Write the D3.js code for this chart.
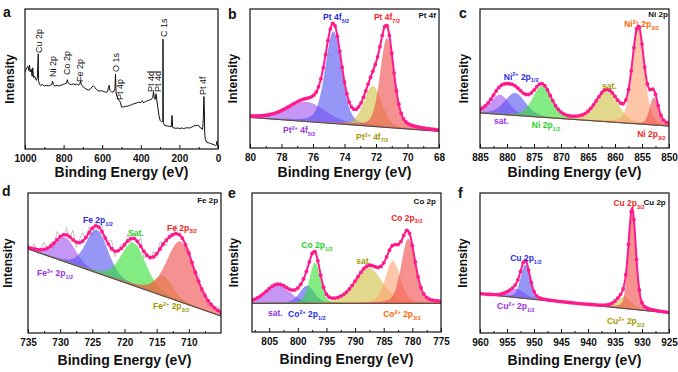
<!DOCTYPE html>
<html>
<head>
<meta charset="utf-8">
<script src="https://cdn.jsdelivr.net/npm/d3@7"></script>
<style>
body { margin: 0; background: #fff; }
svg { display: block; font-family: "Liberation Sans", Arial, sans-serif; }
</style>
</head>
<body>
<script>
// ---- survey spectrum (panel a): [binding energy, intensity]
const surveyData = [[1000,55],[995,57],[990,58],[985,59],[980,56],[977,60],[973,55],[968,57],[963,52],[960,58],[956,51],[950,52],[945,50],[940,49],[936,51],[933,62],[931.5,68],[930,49],[926,46.5],[920,45.5],[910,46],[900,45],[890,45.5],[880,45],[870,45.5],[862,46],[857,48.5],[853,46],[845,45],[835,45.5],[825,45],[815,45.5],[805,46],[795,46.5],[785,47],[781,49.5],[777,47.5],[770,46.5],[760,46],[750,46.5],[740,46],[730,46.5],[722,45.5],[716,46.5],[712,48.5],[708,46],[700,44.5],[690,43.5],[680,42.5],[670,42],[660,43],[652,44.5],[645,45],[638,44],[630,42.5],[620,41.5],[610,41.5],[600,41.5],[590,41],[580,40.5],[572,41],[568,44],[564,45.5],[560,42],[550,40.5],[540,41],[534,43],[531,53.5],[528,40],[522,37],[516,35],[510,34.5],[505,33],[500,30],[490,30],[480,30.5],[470,30.5],[460,31],[450,31.5],[442,32],[430,32.5],[420,33],[410,33.5],[400,33],[392,34.5],[385,33],[375,34],[365,34.5],[355,35],[345,35.5],[338,37],[334,41],[330,36],[325,35.5],[321,39.5],[317,35],[312,30],[306,24],[300,20.5],[294,19.5],[289,19.5],[286,20],[285,78.5],[283.5,19],[278,17],[270,16.5],[260,16.5],[250,16],[242,16],[238,24],[235,15.5],[228,15],[218,14.8],[208,15],[198,14.6],[188,15],[178,14.6],[168,15],[158,15.2],[148,15],[138,15.5],[128,16.2],[120,17],[115,16.5],[105,17],[98,16.5],[95,15.5],[88,15],[80,14],[76,22],[73,37.5],[71,30],[69,12],[66,7],[60,5],[50,4.5],[40,4],[30,3.5],[20,3],[12,2.5],[8,3],[6,5.5],[4,3],[0,2]];
const surveyLabels = [
  {t: "Cu 2p", e: 927.5, v: 68.6}, {t: "Ni 2p", e: 855, v: 51.4}, {t: "Co 2p", e: 782.4, v: 52.9},
  {t: "Fe 2p", e: 715, v: 47.9}, {t: "O 1s", e: 528.5, v: 55}, {t: "Pt 4p", e: 508, v: 35},
  {t: "Pt 4d", e: 347, v: 40.7}, {t: "Pt 4d", e: 311, v: 40.7}, {t: "C 1s", e: 280, v: 80},
  {t: "Pt 4f", e: 78, v: 38.6}
];

// ---- fitted components: centre (eV), height, FWHM (eV), colour key
const ptBackground = [[80, 22], [68, 12]];
const ptPeaks = [
  {c: 76.4, h: 14, w: 2.8, k: "purple"}, {c: 74.7, h: 66, w: 1.2, k: "blue"},
  {c: 72.2, h: 29, w: 1.3, k: "olive"}, {c: 71.3, h: 64, w: 1.0, k: "red"}
];
const ptLabels = [
  {t: "Pt 4f_{5/2}", e: 75.36, v: 92, k: "blue"}, {t: "Pt 4f_{7/2}", e: 72.13, v: 92, k: "red"},
  {t: "Pt^{2+} 4f_{5/2}", e: 77.9, v: 10.8, k: "purple"}, {t: "Pt^{2+} 4f_{7/2}", e: 73.27, v: 5.8, k: "olive"},
  {t: "Pt 4f", e: 68.2, v: 93.5, k: "black", end: true}
];

const niBackground = [[885, 25.2], [850, 15.8]];
const niPeaks = [
  {c: 881.3, h: 13.9, w: 4, k: "purple"}, {c: 878.5, h: 16, w: 4.5, k: "blue"},
  {c: 873.5, h: 22.4, w: 4, k: "green"}, {c: 861.5, h: 22, w: 4.8, k: "olive"},
  {c: 855.7, h: 69, w: 2.6, k: "orange"}, {c: 852.8, h: 19.5, w: 1.8, k: "red"}
];
const niLabels = [
  {t: "Ni^{2+} 2p_{3/2}", e: 858.3, v: 87, k: "orange"}, {t: "Ni^{2+} 2p_{1/2}", e: 880.6, v: 49, k: "blue"},
  {t: "sat.", e: 862.4, v: 42.4, k: "olive"}, {t: "sat.", e: 882.4, v: 17.3, k: "purple"},
  {t: "Ni 2p_{1/2}", e: 875.4, v: 14.4, k: "green"}, {t: "Ni 2p_{3/2}", e: 855.9, v: 7.9, k: "red"},
  {t: "Ni 2p", e: 850.2, v: 94, k: "black", end: true}
];

const feBackground = [[735, 60], [705, 12.1]];
const fePeaks = [
  {c: 729.2, h: 17.2, w: 3.8, k: "purple"}, {c: 724.3, h: 30.7, w: 4, k: "blue"},
  {c: 718.6, h: 30.5, w: 4.5, k: "green"}, {c: 714, h: 14.2, w: 3.5, k: "olive"},
  {c: 711.3, h: 43, w: 5, k: "red"}
];
const feNoise = [2,-1,4,-3,1,5,-2,3,-4,6,1,-3,5,-1,7,-4,2,6,-2,4,-5,3,-1,5,-3,2,6,-4,1,3,-2,5,-3,4,-1,6,-5,2,-2,4,-3,5,1,-4,3,-2,6,-1,2,-5,4,-3,1,5,-2,3,-4,2,-1,3,-2];
const feLabels = [
  {t: "Fe 2p_{1/2}", e: 726.45, v: 78.6, k: "blue"}, {t: "Sat.", e: 719.45, v: 69.3, k: "green"},
  {t: "Fe 2p_{3/2}", e: 713.4, v: 72.9, k: "red"}, {t: "Fe^{3+} 2p_{1/2}", e: 733.6, v: 40.7, k: "purple"},
  {t: "Fe^{2+} 2p_{3/2}", e: 715.56, v: 17.1, k: "olive"}, {t: "Fe 2p", e: 705.45, v: 92.9, k: "black", end: true}
];

const coBackground = [[808, 20.6], [775, 20.6]];
const coPeaks = [
  {c: 803.5, h: 13, w: 5, k: "purple"}, {c: 798.4, h: 12.5, w: 3, k: "blue"},
  {c: 797, h: 29, w: 2.2, k: "green"}, {c: 787.6, h: 25.4, w: 5.5, k: "olive"},
  {c: 783.4, h: 30.5, w: 3, k: "orange"}, {c: 780.7, h: 46.3, w: 2.8, k: "red"}
];
const coLabels = [
  {t: "Co 2p_{1/2}", e: 799.4, v: 60.4, k: "green"}, {t: "sat.", e: 789.8, v: 48.9, k: "olive"},
  {t: "Co 2p_{3/2}", e: 783.7, v: 79.9, k: "red"}, {t: "sat.", e: 805.2, v: 11.5, k: "purple"},
  {t: "Co^{2+} 2p_{1/2}", e: 801.7, v: 10.8, k: "blue"}, {t: "Co^{2+} 2p_{3/2}", e: 785.1, v: 10.8, k: "orange"},
  {t: "Co 2p", e: 775.9, v: 92, k: "black", end: true}
];

const cuBackground = [[960, 27.9], [925, 14.3]];
const cuPeaks = [
  {c: 953.2, h: 6, w: 3.5, k: "purple"}, {c: 951.6, h: 24, w: 2, k: "blue"},
  {c: 933.3, h: 8.2, w: 3, k: "olive"}, {c: 931.8, h: 68, w: 1.6, k: "red"}
];
const cuLabels = [
  {t: "Cu 2p_{3/2}", e: 935.3, v: 90.7, k: "red"}, {t: "Cu 2p_{1/2}", e: 954.4, v: 51.4, k: "blue"},
  {t: "Cu^{2+} 2p_{1/2}", e: 956.85, v: 17.1, k: "purple"}, {t: "Cu^{2+} 2p_{3/2}", e: 936.5, v: 6.4, k: "olive"},
  {t: "Cu 2p", e: 925.6, v: 91.4, k: "black", end: true}
];

const fillColor = {purple: "#a050f0", blue: "#5050f0", green: "#30e030", olive: "#d0c040", orange: "#ffa070", red: "#f04848"};
const textColor = {purple: "#9a2ee8", blue: "#2a2ae6", green: "#1ed21e", olive: "#a09a00", orange: "#ff6600", red: "#f22424", black: "#111"};
const PINK = "#ff1a8c";
const ETA = 0.3;

const svg = d3.select("body").append("svg").attr("width", 678).attr("height", 372);

function pv(e, p) {
  const d = (e - p.c) / p.w;
  return p.h * ((1 - ETA) * Math.exp(-4 * Math.LN2 * d * d) + ETA / (1 + 4 * d * d));
}

function rich(sel, s, base, small) {
  const parts = s.split(/(\^\{[^}]*\}|_\{[^}]*\})/).filter(Boolean);
  let shift = 0;
  parts.forEach(part => {
    let target = 0, size = base, str = part;
    if (part.startsWith("^{")) { target = -base * 0.4; size = small; str = part.slice(2, -1); }
    else if (part.startsWith("_{")) { target = base * 0.3; size = small; str = part.slice(2, -1); }
    sel.append("tspan").attr("dy", target - shift).attr("font-size", size).text(str);
    shift = target;
  });
}

function frame(L, domain, major, minor) {
  const x = d3.scaleLinear().domain(domain).range([L.x0, L.x1]);
  const y = d3.scaleLinear().domain([0, 100]).range([L.y1, L.y0]);
  const g = svg.append("g");
  const id = "clip-" + L.letter;
  svg.append("clipPath").attr("id", id).append("rect")
    .attr("x", L.x0).attr("y", L.y0).attr("width", L.x1 - L.x0).attr("height", L.y1 - L.y0);
  const plot = g.append("g").attr("clip-path", `url(#${id})`);

  const ax = g.append("g").attr("transform", `translate(0,${L.y1})`)
    .call(d3.axisBottom(x).tickValues(major).tickSize(-4).tickPadding(6).tickFormat(d3.format("d")));
  ax.attr("font-family", null).select(".domain").remove();
  ax.selectAll("line").attr("stroke", "#111");
  ax.selectAll("text").attr("font-size", 10).attr("font-weight", "bold").attr("fill", "#111");
  const mi = g.append("g").attr("transform", `translate(0,${L.y1})`)
    .call(d3.axisBottom(x).tickValues(minor).tickSize(-2).tickFormat(""));
  mi.select(".domain").remove();
  mi.selectAll("line").attr("stroke", "#111");

  g.append("rect").attr("x", L.x0).attr("y", L.y0).attr("width", L.x1 - L.x0).attr("height", L.y1 - L.y0)
    .attr("fill", "none").attr("stroke", "#111").attr("stroke-width", 1.2);

  g.append("text").attr("x", (L.x0 + L.x1) / 2).attr("y", L.y1 + L.tdy)
    .attr("text-anchor", "middle").attr("font-size", 14).attr("font-weight", "bold").attr("fill", "#111")
    .text("Binding Energy (eV)");
  g.append("text").attr("transform", `translate(${L.ix},${(L.y0 + L.y1) / 2}) rotate(-90)`)
    .attr("text-anchor", "middle").attr("dominant-baseline", "central")
    .attr("font-size", 12).attr("font-weight", "bold").attr("fill", "#111").text("Intensity");
  g.append("text").attr("x", L.lx).attr("y", L.ly).attr("font-size", 14).attr("font-weight", "bold")
    .attr("fill", "#111").text(L.letter);
  return {x, y, g, plot};
}

function fit(P, bgPts, peaks, labels, dotStep, noise) {
  const [[e0, v0], [e1, v1]] = bgPts;
  const bg = e => v0 + (e - e0) * (v1 - v0) / (e1 - e0);
  const env = e => bg(e) + d3.sum(peaks, p => pv(e, p));
  const [lo, hi] = d3.extent(P.x.domain());
  const grid = d3.range(lo, hi + 1e-6, (hi - lo) / 400);

  if (noise) {
    const ne = noise.map((n, i) => [hi - i * 0.5, n]);
    P.plot.append("path").datum(ne)
      .attr("d", d3.line().x(d => P.x(d[0])).y(d => P.y(env(d[0]) + d[1])))
      .attr("fill", "none").attr("stroke", "#b4b4b4").attr("stroke-width", 0.8);
  }
  peaks.forEach(p => {
    P.plot.append("path").datum(grid)
      .attr("d", d3.area().x(e => P.x(e)).y0(e => P.y(bg(e))).y1(e => P.y(bg(e) + pv(e, p))))
      .attr("fill", fillColor[p.k]).attr("fill-opacity", 0.6)
      .attr("stroke", fillColor[p.k]).attr("stroke-opacity", 0.5).attr("stroke-width", 0.5);
  });
  P.plot.append("path").datum([lo, hi])
    .attr("d", d3.line().x(e => P.x(e)).y(e => P.y(bg(e))))
    .attr("stroke", "#444").attr("stroke-width", 0.9);
  P.plot.append("path").datum(grid)
    .attr("d", d3.line().x(e => P.x(e)).y(e => P.y(env(e))))
    .attr("fill", "none").attr("stroke", PINK).attr("stroke-width", 2);
  P.plot.selectAll("circle.pt").data(d3.range(lo, hi + 1e-6, dotStep)).join("circle")
    .attr("cx", e => P.x(e)).attr("cy", e => P.y(env(e))).attr("r", 1.9).attr("fill", PINK);

  labels.forEach(l => {
    const t = P.g.append("text").attr("x", P.x(l.e)).attr("y", P.y(l.v))
      .attr("text-anchor", l.end ? "end" : "start").attr("font-weight", "bold")
      .attr("fill", textColor[l.k]);
    rich(t, l.t, l.end ? 8 : 8.5, 5.5);
  });
}

// ---- panel a: survey
const A = frame({letter: "a", x0: 25, x1: 218, y0: 9, y1: 149, tdy: 28, ix: 10, lx: 3, ly: 17},
  [1000, 0], d3.range(0, 1001, 200), d3.range(100, 1000, 200));
A.plot.append("path").datum(surveyData)
  .attr("d", d3.line().x(d => A.x(d[0])).y(d => A.y(d[1])))
  .attr("fill", "none").attr("stroke", "#111").attr("stroke-width", 1);
surveyLabels.forEach(l => {
  A.g.append("text").attr("transform", `translate(${A.x(l.e)},${A.y(l.v)}) rotate(-90)`)
    .attr("dominant-baseline", "central").attr("font-size", 9).attr("fill", "#111").text(l.t);
});

// ---- panel b: Pt 4f
const B = frame({letter: "b", x0: 250, x1: 439, y0: 9, y1: 148, tdy: 29, ix: 233, lx: 228, ly: 19},
  [80, 68], d3.range(68, 81, 2), d3.range(69, 80, 2));
fit(B, ptBackground, ptPeaks, ptLabels, 0.15);

// ---- panel c: Ni 2p
const C = frame({letter: "c", x0: 480, x1: 669, y0: 9, y1: 148, tdy: 29, ix: 464, lx: 459, ly: 18},
  [885, 850], d3.range(850, 886, 5), d3.range(852.5, 885, 5));
fit(C, niBackground, niPeaks, niLabels, 0.5);

// ---- panel d: Fe 2p
const D = frame({letter: "d", x0: 28, x1: 221, y0: 193, y1: 333, tdy: 32, ix: 8, lx: 2, ly: 196},
  [735, 705], d3.range(710, 736, 5), d3.range(707.5, 735, 5));
fit(D, feBackground, fePeaks, feLabels, 0.5, feNoise);

// ---- panel e: Co 2p
const E = frame({letter: "e", x0: 252, x1: 441, y0: 193, y1: 332, tdy: 32, ix: 234, lx: 228, ly: 198},
  [808, 775], d3.range(775, 806, 5), d3.range(777.5, 808, 5));
fit(E, coBackground, coPeaks, coLabels, 0.5);

// ---- panel f: Cu 2p
const F = frame({letter: "f", x0: 480, x1: 669, y0: 193, y1: 333, tdy: 32, ix: 463, lx: 458, ly: 198},
  [960, 925], d3.range(925, 961, 5), d3.range(927.5, 960, 5));
fit(F, cuBackground, cuPeaks, cuLabels, 0.5);
</script>
</body>
</html>
